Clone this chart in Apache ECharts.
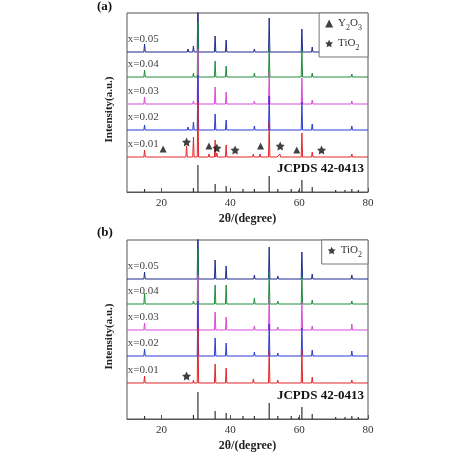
<!DOCTYPE html>
<html>
<head>
<meta charset="utf-8">
<script src="https://cdn.jsdelivr.net/npm/echarts@6/dist/echarts.min.js"></script>
<style>
  html, body { margin: 0; padding: 0; background: #fff; }
  #main { width: 474px; height: 474px; }
</style>
</head>
<body>
<div id="main"></div>
<script>
// peaks as [2theta, height], height in y-axis units
const samples = ['x=0.01', 'x=0.02', 'x=0.03', 'x=0.04', 'x=0.05']

const peaksA01 = [[15.1, 7], [20.5, 2], [27.3, 11], [29.3, 20], [30.6, 55], [33.8, 3], [35.6, 17], [36.1, 4], [38.8, 12], [41.3, 2], [46.7, 3], [48.6, 3], [51.3, 35], [53.8, 2], [54.4, 3], [57.7, 2], [59.2, 2], [60.8, 24], [63.8, 5], [66.5, 1], [75.3, 3], [77.2, 1]]
const peaksA02 = [[15.1, 5], [27.7, 3], [29.3, 8], [30.6, 55], [35.6, 16], [38.8, 10], [43.7, 1], [47.0, 4], [51.3, 34], [53.8, 2], [57.7, 1], [60.8, 28], [63.8, 6], [66.0, 1], [70.6, 1], [73.3, 1], [75.3, 4], [77.2, 1]]
const peaksA03 = [[15.1, 7], [27.7, 1], [29.3, 3], [30.6, 55], [35.6, 17], [38.8, 12], [43.7, 1], [47.0, 3], [51.3, 32], [53.8, 2], [57.7, 1], [60.8, 26], [63.8, 4], [66.0, 1], [70.6, 1], [73.3, 1], [75.3, 3], [77.2, 1]]
const peaksA04 = [[15.1, 7], [27.7, 2], [29.3, 4], [30.6, 55], [35.6, 16], [38.8, 11], [43.7, 1], [47.0, 4], [51.3, 30], [53.8, 2], [57.7, 1], [60.8, 27], [63.8, 4], [66.0, 1], [70.6, 1], [73.3, 1], [75.3, 3], [77.2, 1]]
const peaksA05 = [[15.1, 8], [27.7, 3], [29.3, 6], [30.6, 60], [35.6, 16], [38.8, 12], [43.7, 1], [47.0, 3], [51.3, 34], [53.8, 2], [57.7, 2], [60.8, 23], [63.8, 5], [66.0, 1], [70.6, 1], [73.3, 1], [75.3, 3], [77.2, 1]]

const peaksB01 = [[15.1, 7], [27.3, 2], [29.3, 3], [30.6, 55], [35.6, 19], [38.8, 15], [46.7, 4], [51.3, 33], [53.8, 3], [57.7, 1], [60.8, 33], [63.8, 6], [66.0, 1], [75.3, 3], [77.2, 1]]
const peaksB02 = [[15.1, 7], [29.3, 2], [30.6, 55], [35.6, 18], [38.8, 13], [47.0, 4], [51.3, 32], [53.8, 3], [57.7, 1], [60.8, 28], [63.8, 6], [66.0, 1], [75.3, 5], [77.2, 2]]
const peaksB03 = [[15.1, 7], [29.3, 2], [30.6, 55], [35.6, 18], [38.8, 13], [47.0, 4], [51.3, 32], [53.8, 3], [57.7, 1], [60.8, 28], [63.8, 4], [66.0, 1], [75.3, 6], [77.2, 2]]
const peaksB04 = [[15.1, 11], [29.3, 3], [30.6, 55], [35.6, 19], [38.8, 19], [47.0, 6], [51.3, 32], [53.8, 3], [57.7, 1], [60.8, 28], [63.8, 4], [66.0, 1], [75.3, 3], [77.2, 2]]
const peaksB05 = [[15.1, 7], [29.3, 2], [30.6, 55], [35.6, 19], [38.8, 13], [47.0, 4], [51.3, 32], [53.8, 3], [57.7, 1], [60.8, 27], [63.8, 5], [66.0, 1], [70.6, 1], [75.3, 4], [77.2, 2]]

// baseline offset of each pattern (x=0.01 ... x=0.05)
const offsetsA = [35, 62, 88, 115, 140]
const offsetsB = [36, 63, 89, 115, 140]

// JCPDS 42-0413 reference sticks
const jcpds = [[15.1, 3], [29.3, 4], [30.6, 27], [35.6, 8], [38.8, 6], [43.7, 3], [47.0, 3], [51.3, 16], [53.8, 3], [57.7, 3], [59.9, 2], [60.8, 12], [63.8, 5], [70.6, 2], [73.3, 2], [75.3, 3], [77.2, 2]]

// impurity markers [2theta, y]
const y2o3A = [[20.5, 43], [33.8, 46], [48.8, 46], [59.3, 42]]
const tio2A = [[27.3, 50], [36.1, 44], [41.4, 42], [54.5, 46], [66.5, 42]]
const tio2B = [[27.3, 43]]

const xTicks = [20, 40, 60, 80]

const colors = ['#e3262a', '#2b3bd3', '#d94ad6', '#1f8c3b', '#1d2a8c']
const serif = '"Liberation Serif", "DejaVu Serif", serif'
const star = 'path://M0,-10L2.94,-4.05L9.51,-3.09L4.76,1.55L5.88,8.09L0,5L-5.88,8.09L-4.76,1.55L-9.51,-3.09L-2.94,-4.05Z'

function spikes(peaks, base) {
  const pts = [[10, base]]
  peaks.forEach(([p, h]) => {
    pts.push([p - 0.2, base], [p, base + h], [p + 0.2, base])
  })
  pts.push([80, base])
  return pts
}

function panelSeries(idx, peakSets, offsets) {
  return peakSets.map((pk, i) => ({
    name: samples[i] + (idx ? ' b' : ''),
    type: 'line',
    xAxisIndex: idx,
    yAxisIndex: idx,
    data: spikes(pk, offsets[i]),
    symbol: 'none',
    lineStyle: { width: 1, color: colors[i] },
    z: 2 + (4 - i),
    markPoint: {
      symbol: 'circle',
      symbolSize: 0,
      silent: true,
      data: [{ coord: [10.2, offsets[i] + 13] }],
      label: {
        show: true, position: 'right', distance: 0,
        formatter: samples[i], color: '#444', fontFamily: serif, fontSize: 11
      }
    }
  }))
}

const myChart = echarts.init(document.getElementById('main'))

const axisX = (gi) => ({
  type: 'value', gridIndex: gi, min: 10, max: 80,
  name: '2θ/(degree)', nameLocation: 'middle', nameGap: 21,
  nameTextStyle: { fontFamily: serif, fontWeight: 'bold', fontSize: 12, color: '#222' },
  axisLine: { lineStyle: { color: '#555' } },
  axisTick: { inside: true, length: 4, customValues: xTicks, lineStyle: { color: '#555' } },
  axisLabel: { customValues: xTicks, margin: 6, fontFamily: serif, fontSize: 11, color: '#333' },
  splitLine: { show: false }
})
const axisY = (gi) => ({
  type: 'value', gridIndex: gi, min: 0, max: 179,
  name: 'Intensity(a.u.)', nameLocation: 'middle', nameGap: 12, nameRotate: 90,
  nameTextStyle: { fontFamily: serif, fontWeight: 'bold', fontSize: 11, color: '#222', padding: [0, 14, 0, 0] },
  axisLine: { show: false }, axisTick: { show: false }, axisLabel: { show: false },
  splitLine: { show: false }
})

const legendText = {
  fontFamily: serif, fontSize: 11, color: '#333',
  rich: {
    n: { fontFamily: serif, fontSize: 11, color: '#333', verticalAlign: 'bottom' },
    s: { fontFamily: serif, fontSize: 8, color: '#333', verticalAlign: 'bottom', padding: [0, 0, -3, 0] }
  }
}
const legendFmt = (n) => (n === 'Y2O3' ? '{n|Y}{s|2}{n|O}{s|3}' : '{n|TiO}{s|2}')
const legendBase = {
  orient: 'vertical', right: 106, itemWidth: 8, itemHeight: 8, itemGap: 6,
  padding: [5, 6, 5, 6], borderColor: '#777', borderWidth: 1, backgroundColor: '#fff',
  textStyle: legendText, formatter: legendFmt, selectedMode: false
}

const option = {
  animation: false,
  backgroundColor: '#fff',
  grid: [
    { left: 127, right: 106, top: 13, height: 179, show: true, borderColor: '#555', borderWidth: 1 },
    { left: 127, right: 106, top: 240, height: 179, show: true, borderColor: '#555', borderWidth: 1 }
  ],
  xAxis: [axisX(0), axisX(1)],
  yAxis: [axisY(0), axisY(1)],
  legend: [
    Object.assign({}, legendBase, { top: 13, data: [{ name: 'Y2O3', icon: 'triangle' }, { name: 'TiO2', icon: star }] }),
    Object.assign({}, legendBase, { top: 240, data: [{ name: 'TiO2', icon: star }] })
  ],
  graphic: [
    { type: 'text', left: 97, top: 0, style: { text: '(a)', font: 'bold 13px ' + serif, fill: '#111' } },
    { type: 'text', left: 97, top: 226, style: { text: '(b)', font: 'bold 13px ' + serif, fill: '#111' } },
    { type: 'text', right: 110, top: 162, style: { text: 'JCPDS 42-0413', font: 'bold 13px ' + serif, fill: '#111' } },
    { type: 'text', right: 110, top: 389, style: { text: 'JCPDS 42-0413', font: 'bold 13px ' + serif, fill: '#111' } }
  ],
  series: [
    ...panelSeries(0, [peaksA01, peaksA02, peaksA03, peaksA04, peaksA05], offsetsA),
    ...panelSeries(1, [peaksB01, peaksB02, peaksB03, peaksB04, peaksB05], offsetsB),
    { name: 'JCPDS', type: 'bar', xAxisIndex: 0, yAxisIndex: 0, data: jcpds, barWidth: 1.2, itemStyle: { color: '#333' } },
    { name: 'JCPDS b', type: 'bar', xAxisIndex: 1, yAxisIndex: 1, data: jcpds, barWidth: 1.2, itemStyle: { color: '#333' } },
    { name: 'Y2O3', type: 'scatter', xAxisIndex: 0, yAxisIndex: 0, data: y2o3A, symbol: 'triangle', symbolSize: 7, itemStyle: { color: '#111' }, z: 10 },
    { name: 'TiO2', type: 'scatter', xAxisIndex: 0, yAxisIndex: 0, data: tio2A, symbol: star, symbolSize: 9, itemStyle: { color: '#111' }, z: 10 },
    { name: 'TiO2', type: 'scatter', xAxisIndex: 1, yAxisIndex: 1, data: tio2B, symbol: star, symbolSize: 9, itemStyle: { color: '#111' }, z: 10 }
  ]
}

option && myChart.setOption(option)
</script>
</body>
</html>
